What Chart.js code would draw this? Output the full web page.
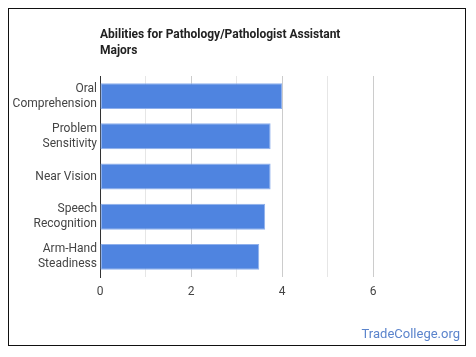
<!DOCTYPE html>
<html><head><meta charset="utf-8">
<script src="https://cdn.jsdelivr.net/npm/chart.js@4/dist/chart.umd.min.js"></script>
<style>
html,body{margin:0;padding:0;background:#fff;}
#wrap{position:relative;width:476px;height:357px;}
#frame{position:absolute;left:8px;top:8px;width:456px;height:336px;border:1.5px solid #111;box-sizing:content-box;pointer-events:none;}
</style></head>
<body><div id="wrap"><canvas id="c" width="476" height="357"></canvas><div id="frame"></div></div>
<script>
const titleLines = ["Abilities for Pathology/Pathologist Assistant", "Majors"];
const categories = [["Oral","Comprehension"],["Problem","Sensitivity"],["Near Vision"],["Speech","Recognition"],["Arm-Hand","Steadiness"]];
const values = [4.0, 3.75, 3.75, 3.63, 3.5];
const xTicks = [0, 2, 4, 6];
const watermark = "TradeCollege.org";

const overlay = {
  id: 'overlay',
  afterDraw(chart) {
    const ctx = chart.ctx, a = chart.chartArea;
    ctx.save();
    ctx.fillStyle = '#222';
    ctx.font = 'bold 12px Roboto';
    ctx.textAlign = 'left';
    ctx.textBaseline = 'middle';
    titleLines.forEach((t, i) => ctx.fillText(t, a.left, 35 + i * 16));
    ctx.fillStyle = '#5b84cc';
    ctx.font = '13px Roboto';
    ctx.textAlign = 'right';
    ctx.fillText(watermark, 460, 335);
    ctx.restore();
  }
};

new Chart(document.getElementById('c'), {
  type: 'bar',
  data: {
    labels: categories,
    datasets: [{
      data: values,
      backgroundColor: '#4f84e0',
      borderColor: '#8fb0ec',
      borderWidth: 1,
      borderSkipped: false,
      categoryPercentage: 1,
      barPercentage: 0.645
    }]
  },
  options: {
    indexAxis: 'y',
    responsive: false,
    animation: false,
    devicePixelRatio: 1,
    layout: { padding: { left: 0, right: 103, top: 76, bottom: 59 } },
    plugins: { legend: { display: false }, tooltip: { enabled: false }, title: { display: false } },
    scales: {
      x: {
        min: 0, max: 6,
        afterBuildTicks(s) { s.ticks = [0,1,2,3,4,5,6].map(v => ({ value: v })); },
        afterFit(s) { s.height = 21; },
        grid: {
          drawTicks: false,
          color: ctx => (ctx.tick && ctx.tick.value % 2 === 0) ? '#cccccc' : '#e6e6e6',
          lineWidth: 1
        },
        border: { display: false },
        ticks: {
          padding: 8,
          color: '#444',
          font: { family: 'Roboto', size: 12 },
          callback: v => xTicks.includes(v) ? String(v) : ''
        }
      },
      y: {
        afterFit(s) { s.width = 100; },
        grid: { display: false, drawTicks: false },
        border: { display: true, color: '#333', width: 1 },
        ticks: {
          padding: 3,
          color: '#444',
          font: { family: 'Roboto', size: 12, lineHeight: 1.25 }
        }
      }
    }
  },
  plugins: [overlay]
});
</script>
</body></html>
